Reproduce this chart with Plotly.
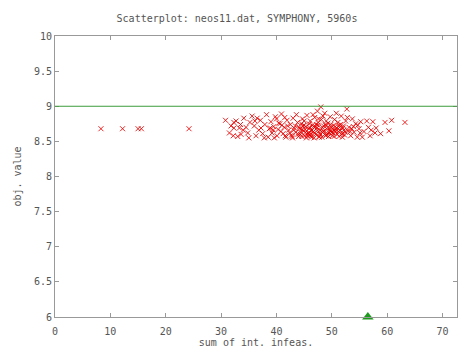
import plotly.graph_objects as go

title = "Scatterplot: neos11.dat, SYMPHONY, 5960s"
x_label = "sum of int. infeas."
y_label = "obj. value"

pts_x = [8.3, 12.2, 15.0, 15.6, 24.2,
         30.8, 31.5, 32.3, 32.7, 33.5, 34.1, 32.3, 33.3, 34.5, 32.2, 33.0, 33.6, 34.8, 35.2, 35.6, 36.0, 36.3, 36.8, 37.1, 37.5, 37.9, 38.2, 38.5, 38.7, 35.0, 36.5, 37.8, 34.0, 31.8,
         39.0, 39.2, 39.5, 39.8, 40.1, 40.3, 40.6, 40.9, 41.2, 41.4, 41.7, 41.9, 42.2, 42.5, 42.7, 43.0, 43.2, 43.5, 43.8, 44.0, 39.6, 40.8, 41.5, 42.0, 42.9, 43.6, 44.2, 38.9, 40.0, 41.0,
         44.3, 44.5, 44.7, 44.9, 45.1, 45.3, 45.5, 45.7, 45.9, 46.1, 46.3, 46.5, 46.7, 46.9, 47.1, 47.3, 47.5, 47.7, 47.9, 48.0, 48.1, 48.3, 48.5, 48.7, 48.9, 49.1, 49.3, 49.5, 49.7, 49.9,
         44.6, 45.0, 45.6, 46.0, 46.4, 46.8, 47.2, 47.6, 48.2, 48.6, 49.0, 49.4, 49.8, 45.2, 46.2, 47.0, 47.8, 48.8, 49.6, 46.6, 47.4, 48.4, 45.4, 44.8, 46.0,
         50.1, 50.3, 50.5, 50.7, 50.9, 51.1, 51.3, 51.5, 51.7, 51.9, 52.1, 52.3, 52.5, 52.7, 52.9, 53.1, 53.4, 53.7, 54.0, 54.3, 54.6, 54.9, 55.2, 55.5, 55.8, 50.4, 51.0, 51.6, 52.2, 52.8, 53.3, 53.9, 50.8, 51.4, 50.0,
         56.3, 56.9, 57.4, 58.0, 58.8, 59.6, 60.3, 60.8, 63.2, 56.6, 57.8,
         42.4, 43.1, 43.9, 44.4, 45.2, 45.8, 46.3, 46.9, 47.4, 47.9, 48.5, 49.2, 49.7, 50.2, 50.6, 51.2, 51.8, 52.4, 43.4, 44.1, 45.0, 45.9, 46.7, 47.5, 48.3, 49.0, 49.8, 50.6, 51.3, 52.0,
         41.6, 42.8, 44.6, 46.2, 47.7, 48.9, 50.4, 51.9, 40.4, 39.4, 37.2, 36.1, 53.6, 54.7, 55.1, 57.1]
pts_y = [8.68, 8.68, 8.68, 8.68, 8.68,
         8.80, 8.62, 8.77, 8.79, 8.74, 8.83, 8.69, 8.69, 8.70, 8.58, 8.57, 8.60, 8.62, 8.77, 8.86, 8.72, 8.58, 8.66, 8.80, 8.61, 8.74, 8.88, 8.56, 8.68, 8.55, 8.83, 8.55, 8.66, 8.72,
         8.78, 8.62, 8.71, 8.85, 8.58, 8.67, 8.75, 8.89, 8.61, 8.70, 8.56, 8.80, 8.66, 8.74, 8.59, 8.83, 8.69, 8.63, 8.77, 8.57, 8.55, 8.64, 8.84, 8.72, 8.55, 8.88, 8.68, 8.69, 8.82, 8.73,
         8.60, 8.75, 8.82, 8.65, 8.58, 8.71, 8.87, 8.62, 8.68, 8.79, 8.56, 8.73, 8.64, 8.84, 8.60, 8.69, 8.77, 8.57, 8.66, 8.99, 8.81, 8.63, 8.72, 8.90, 8.59, 8.68, 8.76, 8.62, 8.85, 8.70,
         8.67, 8.79, 8.58, 8.70, 8.66, 8.55, 8.74, 8.82, 8.56, 8.65, 8.79, 8.57, 8.64, 8.63, 8.61, 8.71, 8.62, 8.74, 8.69, 8.88, 8.93, 8.86, 8.55, 8.72, 8.59,
         8.58, 8.73, 8.81, 8.64, 8.69, 8.77, 8.57, 8.66, 8.86, 8.61, 8.72, 8.59, 8.79, 8.96, 8.65, 8.70, 8.58, 8.82, 8.63, 8.75, 8.56, 8.68, 8.78, 8.56, 8.64, 8.66, 8.60, 8.74, 8.66, 8.84, 8.64, 8.71, 8.90, 8.70, 8.63,
         8.79, 8.58, 8.78, 8.69, 8.61, 8.77, 8.65, 8.80, 8.77, 8.70, 8.62,
         8.62, 8.66, 8.60, 8.63, 8.67, 8.61, 8.65, 8.62, 8.66, 8.60, 8.64, 8.61, 8.66, 8.62, 8.67, 8.64, 8.60, 8.63, 8.72, 8.70, 8.73, 8.75, 8.71, 8.73, 8.70, 8.72, 8.74, 8.71, 8.73, 8.69,
         8.58, 8.57, 8.57, 8.58, 8.56, 8.58, 8.57, 8.56, 8.76, 8.66, 8.69, 8.79, 8.68, 8.73, 8.62, 8.66]

primal_bound = 9.0
best_x = [56.5]
best_y = [6.0]

x_ticks = [0, 10, 20, 30, 40, 50, 60, 70]
y_ticks = [6, 6.5, 7, 7.5, 8, 8.5, 9, 9.5, 10]
x_range = [0, 72.6]
y_range = [6, 10]

font_family = "DejaVu Sans Mono"
text_color = "#555555"
frame_color = "#999999"

fig = go.Figure()
fig.add_trace(go.Scatter(
    x=pts_x, y=pts_y, mode="markers",
    marker=dict(symbol="x-thin", size=5, line=dict(color="rgba(230,0,0,0.85)", width=1)),
    showlegend=False, hoverinfo="skip"))
fig.add_hline(y=primal_bound, line=dict(color="#3c9a3c", width=1))
fig.add_trace(go.Scatter(
    x=best_x, y=best_y, mode="markers",
    marker=dict(symbol="triangle-up", size=10, color="#1e9a1e"),
    cliponaxis=False, showlegend=False))

axis_common = dict(
    showgrid=False, zeroline=False, showline=True, linecolor=frame_color, linewidth=1,
    mirror="ticks", ticks="inside", ticklen=4, tickcolor=frame_color, automargin=False,
    tickfont=dict(family=font_family, size=10, color=text_color))

fig.update_xaxes(range=x_range, tickvals=x_ticks, ticklabelstandoff=5,
                 title=dict(text=x_label, font=dict(family=font_family, size=10, color=text_color), standoff=2),
                 **axis_common)
fig.update_yaxes(range=y_range, tickvals=y_ticks, ticktext=[("%g" % v) for v in y_ticks],
                 title=dict(text=y_label, font=dict(family=font_family, size=10, color=text_color), standoff=10),
                 **axis_common)

fig.update_layout(
    width=474, height=355,
    margin=dict(l=55, r=17, t=36, b=38),
    paper_bgcolor="white", plot_bgcolor="white",
    title=dict(text=title, x=0.5, xanchor="center", y=1 - 18 / 355, yanchor="middle",
               font=dict(family=font_family, size=10, color=text_color)),
)

fig.write_html("out.html")
